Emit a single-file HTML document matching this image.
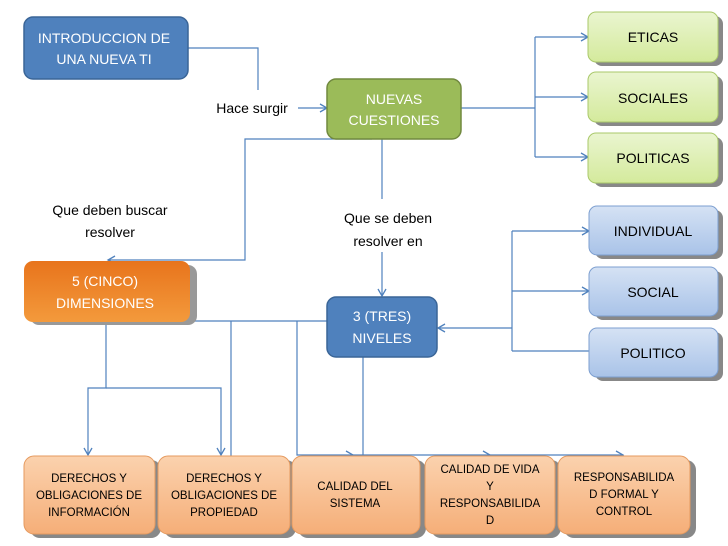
<!DOCTYPE html>
<html><head><meta charset="utf-8"><style>
html,body{margin:0;padding:0;background:#fff;}
svg{display:block;}
text{font-family:"Liberation Sans",sans-serif;}
</style></head><body>
<svg width="728" height="546" viewBox="0 0 728 546" xmlns="http://www.w3.org/2000/svg">
<defs>
<marker id="a" markerWidth="10" markerHeight="10" refX="8" refY="5" orient="auto" markerUnits="userSpaceOnUse">
<path d="M1,1 L8,5 L1,9" fill="none" stroke="#4F81BD" stroke-width="1.3"/></marker>
<linearGradient id="g" x1="0" y1="0" x2="0" y2="1"><stop offset="0" stop-color="#eaf5d0"/><stop offset="1" stop-color="#d4ea9c"/></linearGradient>
<linearGradient id="b" x1="0" y1="0" x2="0" y2="1"><stop offset="0" stop-color="#d5e2f4"/><stop offset="1" stop-color="#a9c3e8"/></linearGradient>
<linearGradient id="o" x1="0" y1="0" x2="0" y2="1"><stop offset="0" stop-color="#fbd2ae"/><stop offset="1" stop-color="#f5ae78"/></linearGradient>
<linearGradient id="or" x1="0" y1="0" x2="0" y2="1"><stop offset="0" stop-color="#e8741c"/><stop offset="1" stop-color="#f39a3c"/></linearGradient>
</defs>
<g fill="none" stroke="#4F81BD" stroke-width="1.2">
<polyline points="188,48 258,48 258,90"/>
<line x1="298" y1="108" x2="327" y2="108" marker-end="url(#a)"/>
<polyline points="461,108 535,108"/>
<line x1="535" y1="37" x2="535" y2="157"/>
<line x1="535" y1="37" x2="588" y2="37" marker-end="url(#a)"/>
<line x1="535" y1="97" x2="588" y2="97" marker-end="url(#a)"/>
<line x1="535" y1="157" x2="588" y2="157" marker-end="url(#a)"/>
<polyline points="372,139 245,139 245,260 108,260" marker-end="url(#a)"/>
<line x1="382" y1="139" x2="382" y2="199"/>
<line x1="382" y1="252" x2="382" y2="296" marker-end="url(#a)"/>
<line x1="512" y1="231" x2="512" y2="351"/>
<line x1="512" y1="231" x2="589" y2="231" marker-end="url(#a)"/>
<line x1="512" y1="291" x2="589" y2="291" marker-end="url(#a)"/>
<line x1="512" y1="351" x2="589" y2="351"/>
<line x1="512" y1="328" x2="438" y2="328" marker-end="url(#a)"/>
<line x1="190" y1="321" x2="327" y2="321"/>
<polyline points="106,322 106,388 88,388 88,455" marker-end="url(#a)"/>
<polyline points="106,388 221,388 221,455" marker-end="url(#a)"/>
<line x1="231" y1="321" x2="231" y2="456"/>
<polyline points="297,321 297,455 353,455" marker-end="url(#a)"/>
<line x1="353" y1="455" x2="490" y2="455" marker-end="url(#a)"/>
<line x1="490" y1="455" x2="623" y2="455" marker-end="url(#a)"/>
<line x1="363" y1="357" x2="363" y2="455"/>
</g>
<!-- top blue -->
<rect x="24" y="17" width="164" height="62" rx="9" fill="#4F81BD" stroke="#3a6597" stroke-width="1.5"/>
<text x="104" y="43" font-size="14" fill="#fff" text-anchor="middle">INTRODUCCION DE</text>
<text x="104" y="64" font-size="14" fill="#fff" text-anchor="middle">UNA NUEVA TI</text>
<text x="252" y="113" font-size="14" fill="#000" text-anchor="middle">Hace surgir</text>
<rect x="327" y="79" width="134" height="60" rx="9" fill="#9BBB59" stroke="#71893f" stroke-width="1.5"/>
<text x="394" y="104" font-size="14" fill="#fff" text-anchor="middle">NUEVAS</text>
<text x="394" y="125" font-size="14" fill="#fff" text-anchor="middle">CUESTIONES</text>
<text x="110" y="215" font-size="14" fill="#000" text-anchor="middle">Que deben buscar</text>
<text x="110" y="237" font-size="14" fill="#000" text-anchor="middle">resolver</text>
<text x="388" y="223" font-size="14" fill="#000" text-anchor="middle">Que se deben</text>
<text x="388" y="246" font-size="14" fill="#000" text-anchor="middle">resolver en</text>
<!-- green -->
<g>
<rect x="594" y="16" width="129" height="50" rx="8" fill="#888"/>
<rect x="588" y="12" width="130" height="50" rx="8" fill="url(#g)" stroke="#a9c86a"/>
<text x="653" y="42" font-size="14" text-anchor="middle">ETICAS</text>
<rect x="594" y="76" width="129" height="50" rx="8" fill="#888"/>
<rect x="588" y="72" width="130" height="50" rx="8" fill="url(#g)" stroke="#a9c86a"/>
<text x="653" y="103" font-size="14" text-anchor="middle">SOCIALES</text>
<rect x="594" y="137" width="129" height="50" rx="8" fill="#888"/>
<rect x="588" y="133" width="130" height="50" rx="8" fill="url(#g)" stroke="#a9c86a"/>
<text x="653" y="163" font-size="14" text-anchor="middle">POLITICAS</text>
</g>
<!-- blue right -->
<g>
<rect x="595" y="210" width="128" height="49" rx="8" fill="#888"/>
<rect x="589" y="206" width="129" height="49" rx="8" fill="url(#b)" stroke="#7d9fd0"/>
<text x="653" y="236" font-size="14" text-anchor="middle">INDIVIDUAL</text>
<rect x="595" y="271" width="128" height="49" rx="8" fill="#888"/>
<rect x="589" y="267" width="129" height="49" rx="8" fill="url(#b)" stroke="#7d9fd0"/>
<text x="653" y="297" font-size="14" text-anchor="middle">SOCIAL</text>
<rect x="595" y="332" width="128" height="49" rx="8" fill="#888"/>
<rect x="589" y="328" width="129" height="49" rx="8" fill="url(#b)" stroke="#7d9fd0"/>
<text x="653" y="358" font-size="14" text-anchor="middle">POLITICO</text>
</g>
<!-- 5 dimensiones -->
<rect x="30" y="265" width="167" height="60" rx="9" fill="#999"/>
<rect x="24" y="261" width="166" height="61" rx="9" fill="url(#or)"/>
<text x="105" y="286" font-size="14" fill="#fff" text-anchor="middle">5 (CINCO)</text>
<text x="105" y="308" font-size="14" fill="#fff" text-anchor="middle">DIMENSIONES</text>
<rect x="327" y="297" width="110" height="60" rx="9" fill="#4F81BD" stroke="#3a6597" stroke-width="1.5"/>
<text x="382" y="321" font-size="14" fill="#fff" text-anchor="middle">3 (TRES)</text>
<text x="382" y="343" font-size="14" fill="#fff" text-anchor="middle">NIVELES</text>
<!-- bottom -->
<g font-size="11.5" text-anchor="middle">
<rect x="30" y="460" width="131" height="78" rx="10" fill="#888"/>
<rect x="24" y="456" width="131" height="78" rx="10" fill="url(#o)" stroke="#e59a5f"/>
<text x="89" y="482">DERECHOS Y</text><text x="89" y="499">OBLIGACIONES DE</text><text x="89" y="516">INFORMACIÓN</text>
<rect x="164" y="460" width="132" height="78" rx="10" fill="#888"/>
<rect x="158" y="456" width="132" height="78" rx="10" fill="url(#o)" stroke="#e59a5f"/>
<text x="224" y="482">DERECHOS Y</text><text x="224" y="499">OBLIGACIONES DE</text><text x="224" y="516">PROPIEDAD</text>
<rect x="298" y="460" width="128" height="78" rx="10" fill="#888"/>
<rect x="292" y="456" width="128" height="78" rx="10" fill="url(#o)" stroke="#e59a5f"/>
<text x="355" y="490">CALIDAD DEL</text><text x="355" y="507">SISTEMA</text>
<rect x="431" y="460" width="130" height="78" rx="10" fill="#888"/>
<rect x="425" y="456" width="130" height="78" rx="10" fill="url(#o)" stroke="#e59a5f"/>
<text x="490" y="473">CALIDAD DE VIDA</text><text x="490" y="490">Y</text><text x="490" y="507">RESPONSABILIDA</text><text x="490" y="524">D</text>
<rect x="564" y="460" width="132" height="78" rx="10" fill="#888"/>
<rect x="558" y="456" width="132" height="78" rx="10" fill="url(#o)" stroke="#e59a5f"/>
<text x="624" y="481">RESPONSABILIDA</text><text x="624" y="498">D FORMAL Y</text><text x="624" y="515">CONTROL</text>
</g>
</svg>
</body></html>
